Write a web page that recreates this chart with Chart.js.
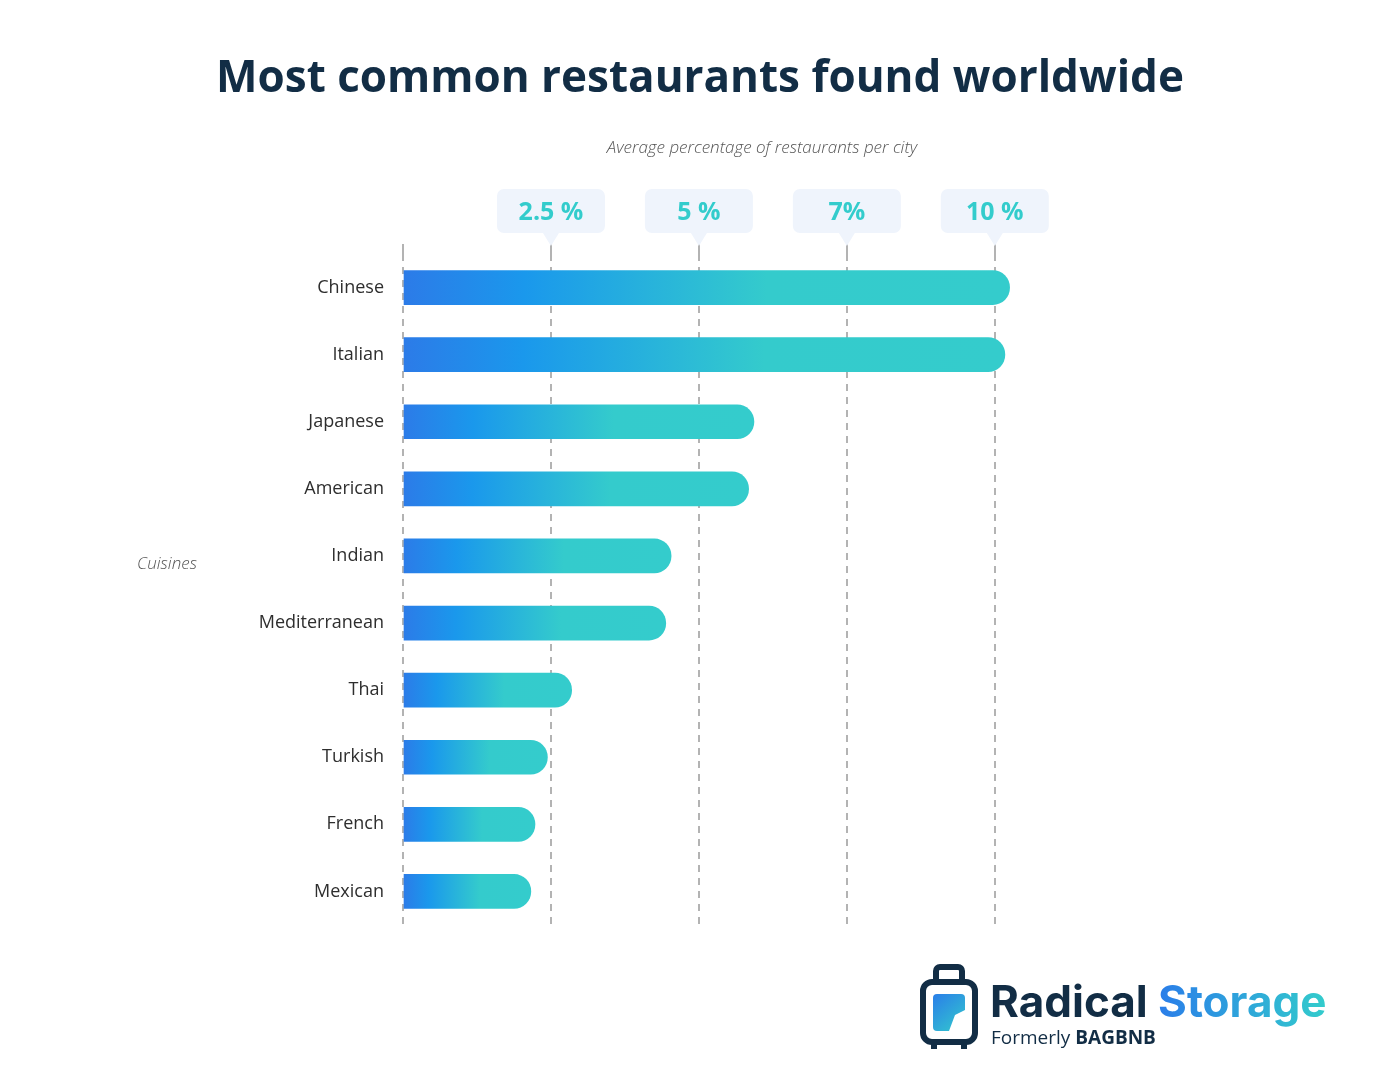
<!DOCTYPE html>
<html>
<head>
<meta charset="utf-8">
<script src="https://cdn.jsdelivr.net/npm/chart.js@4.4.1/dist/chart.umd.min.js"></script>
<style>
  html, body { margin: 0; padding: 0; background: #fff; }
  #wrap { width: 1400px; height: 1080px; position: relative; }
</style>
</head>
<body>
<div id="wrap"><canvas id="chart" width="1400" height="1080"></canvas></div>
<script>
// data
const cuisines = ['Chinese', 'Italian', 'Japanese', 'American', 'Indian', 'Mediterranean', 'Thai', 'Turkish', 'French', 'Mexican'];
const avgShare = [10.25, 10.17, 5.93, 5.84, 4.53, 4.44, 2.85, 2.44, 2.23, 2.16];
const tickValues = [0, 2.5, 5, 7.5, 10];
const tickLabels = ['', '2.5 %', '5 %', '7%', '10 %'];

const NAVY = '#122d45';
const TEAL = '#33cccc';
const BLUE = '#2a7de9';

function barGradient(context) {
  const chart = context.chart;
  const x = chart.scales.x;
  if (!x || !chart.chartArea) return TEAL;
  const x0 = x.getPixelForValue(0);
  const x1 = x.getPixelForValue(context.raw);
  if (!isFinite(x0) || !isFinite(x1)) return TEAL;
  const g = chart.ctx.createLinearGradient(x0, 0, x1, 0);
  g.addColorStop(0, '#2c7be8');
  g.addColorStop(0.2, '#1a98ec');
  g.addColorStop(0.6, '#34cbcc');
  g.addColorStop(1, '#34cccc');
  return g;
}

// callout boxes above the grid lines, titles and logo
const decorations = {
  id: 'decorations',
  afterDraw(chart) {
    const { ctx } = chart;
    const x = chart.scales.x;
    ctx.save();

    // title
    ctx.fillStyle = NAVY;
    ctx.font = 'bold 44px "Open Sans"';
    ctx.textAlign = 'center';
    ctx.textBaseline = 'middle';
    ctx.fillText('Most common restaurants found worldwide', 700, 79);

    // subtitle
    ctx.fillStyle = '#555';
    ctx.font = 'italic 300 17px "Open Sans"';
    ctx.fillText('Average percentage of restaurants per city', 762, 148);

    // y axis title
    ctx.fillText('Cuisines', 167, 564);

    // tick callouts
    tickValues.forEach((v, i) => {
      if (!tickLabels[i]) return;
      const cx = x.getPixelForValue(v);
      const w = 108, h = 44, top = 189;
      ctx.fillStyle = '#eff4fc';
      ctx.beginPath();
      ctx.roundRect(cx - w / 2, top, w, h, 7);
      ctx.fill();
      ctx.beginPath();
      ctx.moveTo(cx - 8, top + h);
      ctx.lineTo(cx, top + h + 13);
      ctx.lineTo(cx + 8, top + h);
      ctx.closePath();
      ctx.fill();
      ctx.fillStyle = TEAL;
      ctx.font = 'bold 25px "Open Sans"';
      ctx.fillText(tickLabels[i], cx, top + h / 2 + 2);
    });

    // logo: suitcase icon
    ctx.strokeStyle = NAVY;
    ctx.fillStyle = NAVY;
    ctx.lineWidth = 6;
    ctx.beginPath();
    ctx.roundRect(936, 967, 26, 18, 4);
    ctx.stroke();
    ctx.beginPath();
    ctx.roundRect(923, 982, 52, 60, 9);
    ctx.fillStyle = '#fff';
    ctx.fill();
    ctx.stroke();
    ctx.fillStyle = NAVY;
    ctx.fillRect(931, 1043, 6, 6);
    ctx.fillRect(961, 1043, 6, 6);
    const ig = ctx.createLinearGradient(933, 993, 966, 1032);
    ig.addColorStop(0, BLUE);
    ig.addColorStop(1, TEAL);
    ctx.fillStyle = ig;
    ctx.beginPath();
    ctx.roundRect(933, 994, 32, 37, 4);
    ctx.fill();
    ctx.fillStyle = '#fff';
    ctx.beginPath();
    ctx.moveTo(949, 1031);
    ctx.lineTo(955, 1015);
    ctx.lineTo(965, 1010);
    ctx.lineTo(965, 1031);
    ctx.closePath();
    ctx.fill();

    // logo text
    ctx.textAlign = 'left';
    ctx.textBaseline = 'alphabetic';
    ctx.font = 'bold 44px "Inter"';
    ctx.fillStyle = NAVY;
    ctx.fillText('Radical', 990, 1017);
    const rw = ctx.measureText('Radical ').width;
    const sw = ctx.measureText('Storage').width;
    const tg = ctx.createLinearGradient(990 + rw, 0, 990 + rw + sw, 0);
    tg.addColorStop(0, BLUE);
    tg.addColorStop(1, TEAL);
    ctx.fillStyle = tg;
    ctx.fillText('Storage', 990 + rw, 1017);

    ctx.fillStyle = NAVY;
    ctx.font = '19px "Open Sans"';
    ctx.fillText('Formerly ', 991, 1044);
    const fw = ctx.measureText('Formerly ').width;
    ctx.font = 'bold 19px "Open Sans"';
    ctx.fillText('BAGBNB', 991 + fw, 1044);

    ctx.restore();
  }
};

new Chart(document.getElementById('chart'), {
  type: 'bar',
  data: {
    labels: cuisines,
    datasets: [{
      data: avgShare,
      backgroundColor: barGradient,
      barThickness: 34,
      borderRadius: { topLeft: 0, bottomLeft: 0, topRight: 17, bottomRight: 17 },
      borderSkipped: false
    }]
  },
  options: {
    indexAxis: 'y',
    responsive: false,
    animation: false,
    layout: { padding: { top: 244, bottom: 155, left: 0, right: 346 } },
    plugins: {
      legend: { display: false },
      tooltip: { enabled: false }
    },
    scales: {
      x: {
        position: 'top',
        min: 0,
        max: 11,
        afterBuildTicks: (scale) => {
          scale.ticks = tickValues.map(v => ({ value: v }));
        },
        ticks: { display: false },
        grid: {
          color: '#b3b3b3',
          lineWidth: 2,
          drawTicks: true,
          tickLength: 10
        },
        border: { display: false, dash: [7, 6] }
      },
      y: {
        afterFit: (scale) => { scale.width = 403; },
        grid: { display: false },
        border: { display: false },
        ticks: {
          color: '#2e2e2e',
          padding: 11,
          font: { family: '"Open Sans"', size: 18 }
        }
      }
    }
  },
  plugins: [decorations]
});
</script>
</body>
</html>
